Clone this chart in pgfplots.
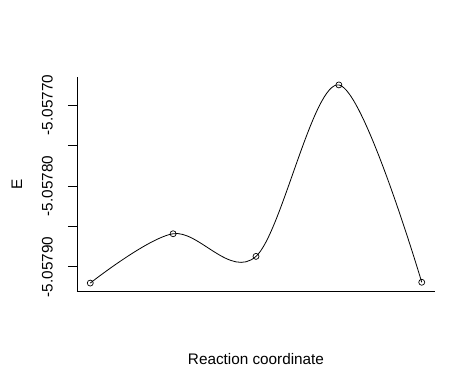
\documentclass[border=0pt]{standalone}
\usepackage{fontspec}
\setmainfont{Liberation Sans}
\usepackage{pgfplots}
\pgfplotsset{compat=1.18}
\begin{document}
\fontsize{15.3}{18}\selectfont
\begin{tikzpicture}
\useasboundingbox (0,0) rectangle (474pt,388pt);
\begin{axis}[
  at={(77pt,97pt)}, anchor=south west,
  scale only axis, width=358pt, height=214pt,
  xmin=0.84, xmax=5.16,
  ymin=-5.0579298, ymax=-5.0576652,
  axis x line*=bottom, axis y line*=left,
  axis line style={line width=0.8pt, black},
  xtick=\empty,
  ytick={-5.0579,-5.05785,-5.0578,-5.05775,-5.0577},
  yticklabels={-5.05790,,-5.05780,,-5.05770},
  tick align=outside, major tick length=9pt,
  tick style={line width=0.8pt, black},
  yticklabel shift=10pt,
  yticklabel style={rotate=90, anchor=south, /pgf/number format/assume math mode=true},
  ylabel={E}, xlabel={Reaction coordinate},
  every axis y label/.style={at={(axis description cs:-0.168,0.5)}, rotate=90, anchor=center},
  every axis x label/.style={at={(axis description cs:0.5,-0.318)}, anchor=center},
  clip=false,
]
\addplot[black, line width=0.8pt, smooth, tension=0.55] coordinates {(1,-5.057920) (2,-5.057859) (3,-5.057887) (4,-5.057675) (5,-5.057919)};
\addplot[black, only marks, mark=o, mark size=3pt, mark options={line width=0.7pt}] coordinates {(1,-5.057920) (2,-5.057859) (3,-5.057887) (4,-5.057675) (5,-5.057919)};
\end{axis}
\end{tikzpicture}
\end{document}
